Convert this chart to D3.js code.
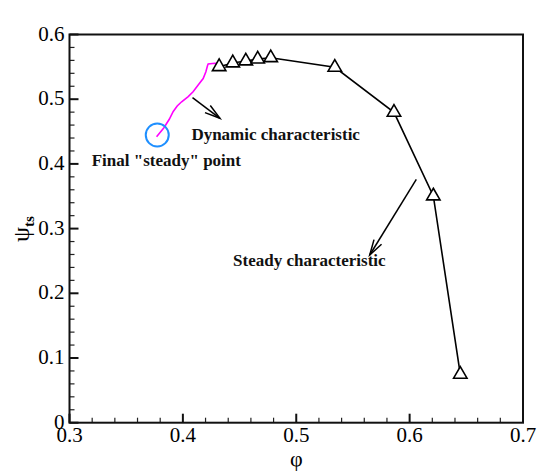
<!DOCTYPE html>
<html>
<head>
<meta charset="utf-8">
<script src="https://cdn.jsdelivr.net/npm/d3@7"></script>
<style>
  body { margin: 0; background: #fff; }
</style>
</head>
<body>
<script>
// steady characteristic (triangles)
const steadyPhi = [0.432, 0.444, 0.4555, 0.466, 0.4775, 0.534, 0.5862, 0.6209, 0.6447];
const steadyPsi = [0.5502, 0.556, 0.559, 0.562, 0.564, 0.5493, 0.4797, 0.3504, 0.0748];

// dynamic characteristic (magenta trace)
const dynPhi = [0.3768, 0.3833, 0.388, 0.3915, 0.395, 0.3989, 0.4047, 0.409, 0.4135, 0.4179, 0.4203, 0.4217, 0.4223, 0.4282, 0.4317];
const dynPsi = [0.442, 0.456, 0.469, 0.481, 0.4895, 0.496, 0.504, 0.5116, 0.522, 0.532, 0.5425, 0.5518, 0.5544, 0.5555, 0.555];

// final "steady" point marker
const finalPoint = [0.3774, 0.4447];

// annotations: arrows [x1, y1, x2, y2] and labels
const arrows = [
    [0.4085, 0.5023, 0.4327, 0.4705],
    [0.6059, 0.3762, 0.5648, 0.2592]
];
const labels = [
    { text: "Dynamic characteristic", x: 0.4075, y: 0.437 },
    { text: "Final \"steady\" point", x: 0.3196, y: 0.3972 },
    { text: "Steady characteristic", x: 0.4443, y: 0.2422 }
];

const xTicks = [0.3, 0.4, 0.5, 0.6, 0.7];
const yTicks = [0, 0.1, 0.2, 0.3, 0.4, 0.5, 0.6];
const xTickLabels = ["0.3", "0.4", "0.5", "0.6", "0.7"];
const yTickLabels = ["0", "0.1", "0.2", "0.3", "0.4", "0.5", "0.6"];

const width = 550;
const height = 475;
const plotLeft = 69.5, plotRight = 523, plotTop = 34.5, plotBottom = 422.7;
const serif = "'Liberation Serif', 'Times New Roman', Times, 'DejaVu Serif', serif";

const svg = d3.select("body").append("svg")
    .attr("width", width)
    .attr("height", height)
    .attr("font-family", serif)
    .style("font-family", serif);

const x = d3.scaleLinear().domain([0.3, 0.7]).range([plotLeft, plotRight]);
const y = d3.scaleLinear().domain([0, 0.6]).range([plotBottom, plotTop]);

// minor ticks every 0.02
const xMinor = d3.range(0.32, 0.7, 0.02).filter(v => Math.abs(v * 10 - Math.round(v * 10)) > 1e-6);
const yMinor = d3.range(0.02, 0.6, 0.02).filter(v => Math.abs(v * 10 - Math.round(v * 10)) > 1e-6);

const axisG = svg.append("g");

// minor ticks
axisG.selectAll(".xminor").data(xMinor).enter().append("line")
    .attr("x1", d => x(d)).attr("x2", d => x(d))
    .attr("y1", plotBottom).attr("y2", plotBottom - 5)
    .attr("stroke", "#222").attr("stroke-width", 1.2);
axisG.selectAll(".yminor").data(yMinor).enter().append("line")
    .attr("y1", d => y(d)).attr("y2", d => y(d))
    .attr("x1", plotLeft).attr("x2", plotLeft + 5)
    .attr("stroke", "#222").attr("stroke-width", 1.2);

// major ticks
axisG.selectAll(".xmajor").data(xTicks).enter().append("line")
    .attr("x1", d => x(d)).attr("x2", d => x(d))
    .attr("y1", plotBottom).attr("y2", plotBottom - 9)
    .attr("stroke", "#111").attr("stroke-width", 2);
axisG.selectAll(".ymajor").data(yTicks).enter().append("line")
    .attr("y1", d => y(d)).attr("y2", d => y(d))
    .attr("x1", plotLeft).attr("x2", plotLeft + 9)
    .attr("stroke", "#111").attr("stroke-width", 2);

// frame
axisG.append("rect")
    .attr("x", plotLeft).attr("y", plotTop)
    .attr("width", plotRight - plotLeft).attr("height", plotBottom - plotTop)
    .attr("fill", "none").attr("stroke", "#111").attr("stroke-width", 2);

// tick labels
axisG.selectAll(".xlab").data(xTicks).enter().append("text")
    .attr("x", d => x(d)).attr("y", plotBottom + 19)
    .attr("text-anchor", "middle")
    .attr("font-size", 21)
    .text((d, i) => xTickLabels[i]);
axisG.selectAll(".ylab").data(yTicks).enter().append("text")
    .attr("x", plotLeft - 5).attr("y", d => y(d) + 6)
    .attr("text-anchor", "end")
    .attr("font-size", 21)
    .text((d, i) => yTickLabels[i]);

// axis titles
svg.append("text")
    .attr("x", x(0.5)).attr("y", 466)
    .attr("text-anchor", "middle")
    .attr("font-size", 22)
    .text("φ");

const yTitle = svg.append("text")
    .attr("transform", "translate(29,229) rotate(-90)")
    .attr("text-anchor", "middle")
    .attr("font-size", 24);
yTitle.append("tspan").text("ψ");
yTitle.append("tspan")
    .attr("font-size", 15)
    .attr("font-weight", "bold")
    .attr("dy", 5)
    .text("ts");

// steady characteristic line
const steady = steadyPhi.map((p, i) => [p, steadyPsi[i]]);
const line = d3.line().x(d => x(d[0])).y(d => y(d[1]));

svg.append("path")
    .datum(steady)
    .attr("d", line)
    .attr("fill", "none")
    .attr("stroke", "#000")
    .attr("stroke-width", 1.6);

// dynamic trace
const dyn = dynPhi.map((p, i) => [p, dynPsi[i]]);
svg.append("path")
    .datum(dyn)
    .attr("d", line)
    .attr("fill", "none")
    .attr("stroke", "#ff00ff")
    .attr("stroke-width", 1.6);

// triangles
const tri = d3.symbol().type(d3.symbolTriangle).size(78);
svg.selectAll(".tri").data(steady).enter().append("path")
    .attr("d", tri)
    .attr("transform", d => `translate(${x(d[0])},${y(d[1])})`)
    .attr("fill", "#fff")
    .attr("stroke", "#000")
    .attr("stroke-width", 1.6);

// final point circle
svg.append("circle")
    .attr("cx", x(finalPoint[0])).attr("cy", y(finalPoint[1]))
    .attr("r", 11.5)
    .attr("fill", "none")
    .attr("stroke", "#1e8fff")
    .attr("stroke-width", 2);

// arrows with open narrow heads
arrows.forEach(a => {
    const x1 = x(a[0]), y1 = y(a[1]), x2 = x(a[2]), y2 = y(a[3]);
    const ang = Math.atan2(y2 - y1, x2 - x1);
    const len = 16, spread = 0.28;
    svg.append("line")
        .attr("x1", x1).attr("y1", y1).attr("x2", x2).attr("y2", y2)
        .attr("stroke", "#000").attr("stroke-width", 1.5);
    const p1 = [x2 - len * Math.cos(ang - spread), y2 - len * Math.sin(ang - spread)];
    const p2 = [x2 - len * Math.cos(ang + spread), y2 - len * Math.sin(ang + spread)];
    svg.append("path")
        .attr("d", `M${p1[0]},${p1[1]}L${x2},${y2}L${p2[0]},${p2[1]}`)
        .attr("fill", "none")
        .attr("stroke", "#000").attr("stroke-width", 1.5);
});

// labels
svg.selectAll(".note").data(labels).enter().append("text")
    .attr("x", d => x(d.x)).attr("y", d => y(d.y))
    .attr("font-size", 17)
    .attr("font-weight", "bold")
    .attr("fill", "#111")
    .text(d => d.text);
</script>
</body>
</html>
